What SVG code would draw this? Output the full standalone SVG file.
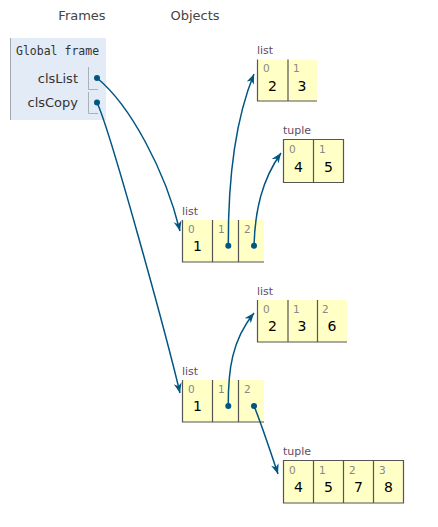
<svg xmlns="http://www.w3.org/2000/svg" width="438" height="527" viewBox="0 0 438 527">
<style>
.hdr{font-family:"DejaVu Sans",Verdana,sans-serif;font-size:13px;fill:#444;text-anchor:middle}
.fname{font-family:"DejaVu Sans Mono",monospace;font-size:11.5px;fill:#333}
.var{font-family:"DejaVu Sans",Verdana,sans-serif;font-size:13px;fill:#333;text-anchor:end}
.vline{stroke:#a6b3b6;stroke-width:1;fill:none}
.cellbg{fill:#ffffc6;stroke:none}
.cb{stroke:#555;stroke-width:1.2;fill:none}
.type{font-family:"DejaVu Sans",Verdana,sans-serif;font-size:11px;fill:#5f4b66}
.idx{font-family:"DejaVu Sans",Verdana,sans-serif;font-size:10.5px;fill:#888}
.val{font-family:"DejaVu Sans",Verdana,sans-serif;font-size:14px;fill:#000;text-anchor:middle}
.dot{fill:#005583}
.conn{stroke:#005583;stroke-width:1.5;fill:none;marker-end:url(#arr)}
</style>
<defs>
<marker id="arr" markerUnits="userSpaceOnUse" markerWidth="11" markerHeight="9" refX="10" refY="4" orient="auto">
<path d="M0,0 L10,4 L0,8 L3,4 z" fill="#005583"/>
</marker>
</defs>
<rect width="438" height="527" fill="#fff"/>
<text class="hdr" x="82" y="20">Frames</text>
<text class="hdr" x="195" y="20">Objects</text>

<g id="global-frame">
<rect x="10" y="38" width="96" height="82" fill="#e2ebf6"/>
<line x1="10.5" y1="38" x2="10.5" y2="120" stroke="#a0a8b0" stroke-width="1"/>
<text class="fname" x="16" y="55">Global frame</text>
<text class="var" x="78" y="83">clsList</text>
<path class="vline" d="M88.5,67 V89.5 H98"/>
<circle class="dot" cx="97" cy="78" r="3"/>
<text class="var" x="78" y="107">clsCopy</text>
<path class="vline" d="M88.5,92 V113.5 H98"/>
<circle class="dot" cx="97" cy="102.5" r="3"/>
</g>

<g id="list-top">
<text class="type" x="257" y="54">list</text>
<rect class="cellbg" x="257.5" y="59.5" width="59.5" height="41.5"/>
<path class="cb" d="M257.5,59.5 V101 H317 M288,59.5 V101"/>
<text class="idx" x="263" y="72">0</text>
<text class="idx" x="293" y="72">1</text>
<text class="val" x="272.5" y="91">2</text>
<text class="val" x="302" y="91">3</text>
</g>

<g id="tuple-45">
<text class="type" x="283" y="134">tuple</text>
<rect class="cellbg" x="283.5" y="139.5" width="60" height="43"/>
<path class="cb" d="M283.5,139.5 H343.5 V182.5 H283.5 Z M313.5,139.5 V182.5"/>
<text class="idx" x="289" y="153">0</text>
<text class="idx" x="319" y="153">1</text>
<text class="val" x="298.5" y="172">4</text>
<text class="val" x="328.5" y="172">5</text>
</g>

<g id="list-mid">
<text class="type" x="182" y="215">list</text>
<rect class="cellbg" x="182.5" y="220" width="81.5" height="42"/>
<path class="cb" d="M182.5,220 V262 H264 M212.5,220 V262 M238.5,220 V262"/>
<text class="idx" x="188" y="233">0</text>
<text class="idx" x="218" y="233">1</text>
<text class="idx" x="244" y="233">2</text>
<text class="val" x="197.5" y="251">1</text>
<circle class="dot" cx="228.3" cy="245.7" r="3"/>
<circle class="dot" cx="254" cy="245.7" r="3"/>
</g>

<g id="list-236">
<text class="type" x="257" y="295">list</text>
<rect class="cellbg" x="257.5" y="300" width="89.5" height="42"/>
<path class="cb" d="M257.5,300 V342 H347 M288,300 V342 M317.5,300 V342"/>
<text class="idx" x="263" y="313">0</text>
<text class="idx" x="293" y="313">1</text>
<text class="idx" x="322" y="313">2</text>
<text class="val" x="272.5" y="331">2</text>
<text class="val" x="302" y="331">3</text>
<text class="val" x="332" y="331">6</text>
</g>

<g id="list-bottom">
<text class="type" x="182" y="375">list</text>
<rect class="cellbg" x="182.5" y="380" width="81.5" height="42"/>
<path class="cb" d="M182.5,380 V422 H264 M212.5,380 V422 M238.5,380 V422"/>
<text class="idx" x="188" y="393">0</text>
<text class="idx" x="218" y="393">1</text>
<text class="idx" x="244" y="393">2</text>
<text class="val" x="197.5" y="411">1</text>
<circle class="dot" cx="228.3" cy="406" r="3"/>
<circle class="dot" cx="254" cy="406" r="3"/>
</g>

<g id="tuple-4578">
<text class="type" x="283" y="455">tuple</text>
<rect class="cellbg" x="283.5" y="460.5" width="120" height="42.5"/>
<path class="cb" d="M283.5,460.5 H403.5 V503 H283.5 Z M313.5,460.5 V503 M343.5,460.5 V503 M373.5,460.5 V503"/>
<text class="idx" x="289" y="474">0</text>
<text class="idx" x="319" y="474">1</text>
<text class="idx" x="349" y="474">2</text>
<text class="idx" x="379" y="474">3</text>
<text class="val" x="298.5" y="492">4</text>
<text class="val" x="328.5" y="492">5</text>
<text class="val" x="358.5" y="492">7</text>
<text class="val" x="388.5" y="492">8</text>
</g>

<g id="connectors">
<path class="conn" d="M97,78 C130,105 165,170 180,231"/>
<path class="conn" d="M97,102.5 C110,130 165,330 180,393"/>
<path class="conn" d="M228.3,245.7 C228,180 235,120 254,74"/>
<path class="conn" d="M254,245.7 C255,210 262,180 281,153"/>
<path class="conn" d="M228.3,406 C228,370 232,340 254,313"/>
<path class="conn" d="M254,406 C260,420 270,450 278,474"/>
</g>
</svg>
